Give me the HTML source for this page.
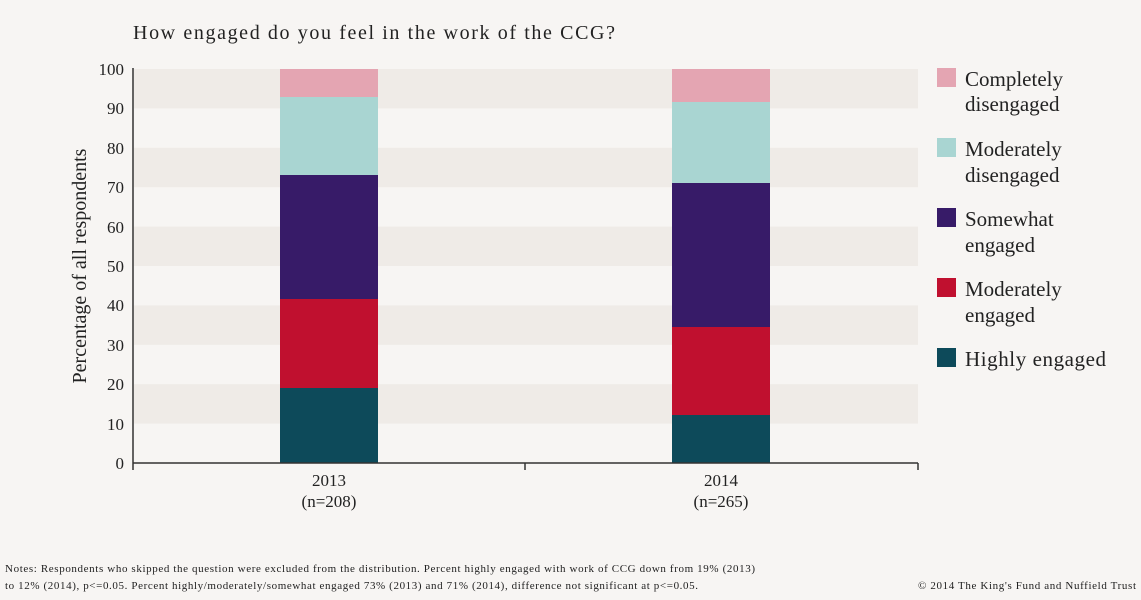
<!DOCTYPE html>
<html><head><meta charset="utf-8"><style>
html,body{margin:0;padding:0;background:#f7f5f3;}
svg{display:block;font-family:"Liberation Serif",serif;}
</style></head><body>
<svg width="1141" height="600" viewBox="0 0 1141 600">
<rect width="1141" height="600" fill="#f7f5f3"/>
<text x="133" y="39" font-size="20" fill="#222" textLength="482">How engaged do you feel in the work of the CCG?</text>
<g fill="#efebe7">
<rect x="134" y="69" width="784" height="39.4"/>
<rect x="134" y="147.8" width="784" height="39.4"/>
<rect x="134" y="226.6" width="784" height="39.4"/>
<rect x="134" y="305.4" width="784" height="39.4"/>
<rect x="134" y="384.2" width="784" height="39.4"/>
</g>
<rect x="280" y="388" width="98" height="75" fill="#0d4a5a"/>
<rect x="280" y="299" width="98" height="89" fill="#c0102f"/>
<rect x="280" y="175" width="98" height="124" fill="#371b68"/>
<rect x="280" y="97" width="98" height="78" fill="#a9d5d2"/>
<rect x="280" y="69" width="98" height="28" fill="#e4a5b2"/>
<rect x="672" y="415" width="98" height="48" fill="#0d4a5a"/>
<rect x="672" y="327" width="98" height="88" fill="#c0102f"/>
<rect x="672" y="183" width="98" height="144" fill="#371b68"/>
<rect x="672" y="102" width="98" height="81" fill="#a9d5d2"/>
<rect x="672" y="69" width="98" height="33" fill="#e4a5b2"/>
<g stroke="#333" stroke-width="1.5">
<line x1="133" y1="68" x2="133" y2="470"/>
<line x1="133" y1="463" x2="918" y2="463"/>
<line x1="525" y1="463" x2="525" y2="470"/>
<line x1="918" y1="463" x2="918" y2="470"/>
</g>
<g font-size="17" fill="#222" text-anchor="end">
<text x="124" y="75">100</text><text x="124" y="114">90</text><text x="124" y="154">80</text>
<text x="124" y="193">70</text><text x="124" y="233">60</text><text x="124" y="272">50</text>
<text x="124" y="311">40</text><text x="124" y="351">30</text><text x="124" y="390">20</text>
<text x="124" y="430">10</text><text x="124" y="469">0</text>
</g>
<text transform="translate(86,266) rotate(-90)" font-size="20" fill="#222" text-anchor="middle">Percentage  of all respondents</text>
<g font-size="17" fill="#222" text-anchor="middle">
<text x="329" y="486">2013</text><text x="329" y="507">(n=208)</text>
<text x="721" y="486">2014</text><text x="721" y="507">(n=265)</text>
</g>
<g font-size="21" fill="#222">
<rect x="937" y="68" width="19" height="19" fill="#e4a5b2"/>
<text x="965" y="86">Completely</text><text x="965" y="111">disengaged</text>
<rect x="937" y="138" width="19" height="19" fill="#a9d5d2"/>
<text x="965" y="156">Moderately</text><text x="965" y="182">disengaged</text>
<rect x="937" y="208" width="19" height="19" fill="#371b68"/>
<text x="965" y="226">Somewhat</text><text x="965" y="252">engaged</text>
<rect x="937" y="278" width="19" height="19" fill="#c0102f"/>
<text x="965" y="296">Moderately</text><text x="965" y="322">engaged</text>
<rect x="937" y="348" width="19" height="19" fill="#0d4a5a"/>
<text x="965" y="366" textLength="141">Highly engaged</text>
</g>
<g font-size="11" fill="#222">
<text x="5" y="572" textLength="750">Notes: Respondents who skipped the question were excluded from the distribution. Percent highly engaged with work of CCG down from 19% (2013)</text>
<text x="5" y="589" textLength="693">to 12% (2014), p&lt;=0.05. Percent highly/moderately/somewhat engaged 73% (2013) and 71% (2014), difference not significant at p&lt;=0.05.</text>
<text x="918" y="589" textLength="218">© 2014 The King's Fund and Nuffield Trust</text>
</g>
</svg>
</body></html>
